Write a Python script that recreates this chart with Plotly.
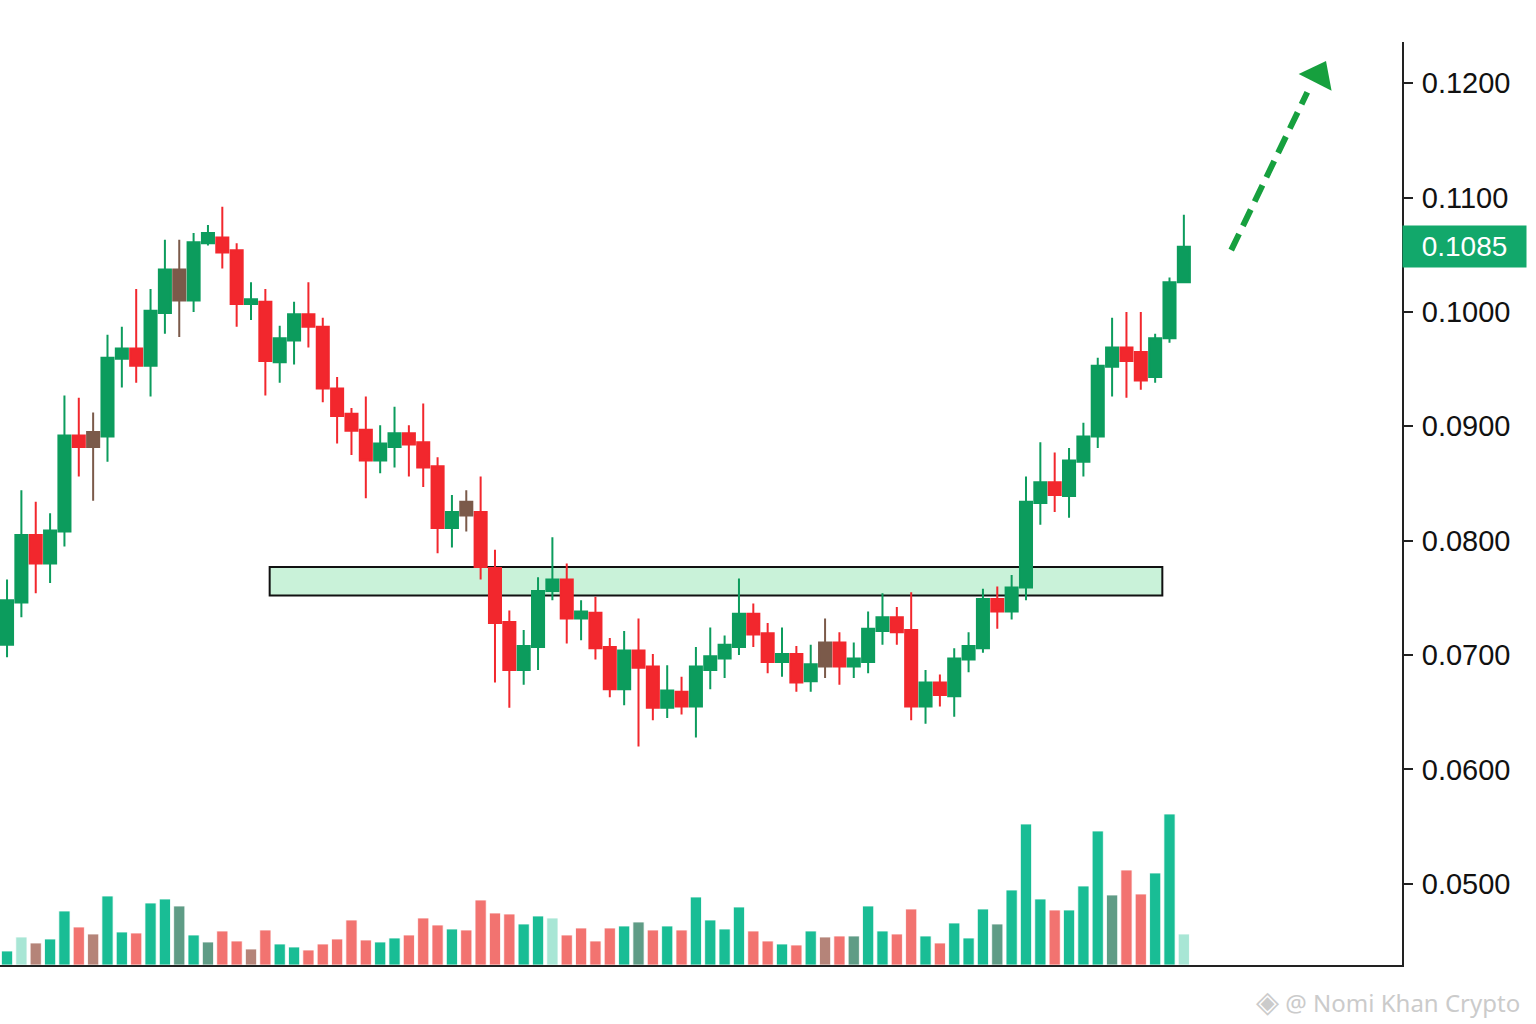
import plotly.graph_objects as go

# ---------------- data ----------------
open_ = [0.0709, 0.0746, 0.0805, 0.0780, 0.0808, 0.0892, 0.0895, 0.0891, 0.0959, 0.0968,
         0.0953, 0.0999, 0.1037, 0.1010, 0.1060, 0.1065, 0.1054, 0.1007, 0.1009, 0.0956,
         0.0975, 0.0998, 0.0987, 0.0933, 0.0911, 0.0897, 0.0870, 0.0882, 0.0894, 0.0886,
         0.0865, 0.0811, 0.0834, 0.0825, 0.0776, 0.0729, 0.0687, 0.0707, 0.0756, 0.0766,
         0.0732, 0.0737, 0.0707, 0.0670, 0.0704, 0.0690, 0.0654, 0.0668, 0.0655, 0.0687,
         0.0697, 0.0707, 0.0736, 0.0719, 0.0694, 0.0701, 0.0677, 0.0711, 0.0711, 0.0690,
         0.0694, 0.0721, 0.0733, 0.0722, 0.0655, 0.0676, 0.0664, 0.0696, 0.0706, 0.0749,
         0.0738, 0.0759, 0.0833, 0.0851, 0.0839, 0.0869, 0.0891, 0.0952, 0.0969, 0.0965,
         0.0943, 0.0977, 0.1026]
high = [0.0766, 0.0844, 0.0834, 0.0824, 0.0927, 0.0925, 0.0912, 0.0980, 0.0987, 0.1020,
        0.1020, 0.1063, 0.1063, 0.1069, 0.1076, 0.1092, 0.1060, 0.1026, 0.1020, 0.0988,
        0.1009, 0.1026, 0.0995, 0.0943, 0.0916, 0.0926, 0.0901, 0.0917, 0.0901, 0.0920,
        0.0873, 0.0840, 0.0844, 0.0856, 0.0792, 0.0739, 0.0722, 0.0768, 0.0803, 0.0780,
        0.0748, 0.0751, 0.0715, 0.0721, 0.0732, 0.0701, 0.0691, 0.0681, 0.0707, 0.0724,
        0.0717, 0.0767, 0.0745, 0.0728, 0.0724, 0.0708, 0.0709, 0.0732, 0.0720, 0.0711,
        0.0738, 0.0754, 0.0742, 0.0755, 0.0687, 0.0683, 0.0706, 0.0720, 0.0758, 0.0760,
        0.0770, 0.0856, 0.0886, 0.0877, 0.0881, 0.0903, 0.0960, 0.0995, 0.1000, 0.1000,
        0.0981, 0.1030, 0.1085]
low = [0.0698, 0.0733, 0.0754, 0.0763, 0.0795, 0.0856, 0.0835, 0.0869, 0.0934, 0.0938,
       0.0926, 0.0981, 0.0978, 0.1000, 0.1058, 0.1038, 0.0987, 0.0993, 0.0927, 0.0938,
       0.0954, 0.0969, 0.0921, 0.0885, 0.0875, 0.0837, 0.0859, 0.0864, 0.0856, 0.0847,
       0.0789, 0.0794, 0.0808, 0.0766, 0.0676, 0.0654, 0.0674, 0.0687, 0.0748, 0.0710,
       0.0713, 0.0696, 0.0663, 0.0656, 0.0620, 0.0643, 0.0645, 0.0648, 0.0628, 0.0670,
       0.0680, 0.0700, 0.0707, 0.0684, 0.0681, 0.0668, 0.0668, 0.0680, 0.0674, 0.0680,
       0.0684, 0.0709, 0.0709, 0.0643, 0.0640, 0.0655, 0.0646, 0.0685, 0.0702, 0.0723,
       0.0731, 0.0748, 0.0814, 0.0825, 0.0820, 0.0856, 0.0881, 0.0926, 0.0925, 0.0932,
       0.0938, 0.0973, 0.1025]
close = [0.0748, 0.0805, 0.0780, 0.0809, 0.0892, 0.0882, 0.0882, 0.0960, 0.0968, 0.0953,
         0.1001, 0.1037, 0.1010, 0.1061, 0.1069, 0.1052, 0.1007, 0.1011, 0.0957, 0.0977,
         0.0998, 0.0987, 0.0933, 0.0909, 0.0896, 0.0870, 0.0885, 0.0894, 0.0884, 0.0864,
         0.0811, 0.0825, 0.0822, 0.0777, 0.0728, 0.0687, 0.0708, 0.0756, 0.0766, 0.0732,
         0.0738, 0.0706, 0.0670, 0.0704, 0.0689, 0.0654, 0.0669, 0.0655, 0.0690, 0.0699,
         0.0709, 0.0736, 0.0718, 0.0694, 0.0701, 0.0676, 0.0692, 0.0690, 0.0690, 0.0697,
         0.0723, 0.0733, 0.0720, 0.0655, 0.0676, 0.0665, 0.0697, 0.0708, 0.0749, 0.0738,
         0.0759, 0.0834, 0.0851, 0.0840, 0.0870, 0.0891, 0.0953, 0.0969, 0.0957, 0.0940,
         0.0977, 0.1026, 0.1057]
# candles drawn in a muted (mixed) tone, 1-based candle numbers
mixed_candles = [7, 13, 33, 58]

volume = [14, 28, 22, 26, 54, 38, 31, 69, 33, 32,
          62, 66, 59, 30, 23, 34, 24, 16, 35, 21,
          18, 15, 21, 26, 45, 25, 23, 27, 30, 47,
          40, 36, 35, 65, 52, 51, 41, 49, 47, 30,
          37, 24, 37, 39, 43, 35, 39, 35, 68, 45,
          36, 58, 34, 24, 21, 20, 34, 28, 29, 29,
          59, 34, 31, 56, 29, 22, 42, 27, 56, 41,
          75, 141, 66, 55, 55, 79, 134, 70, 95, 71,
          92, 151, 31]
# u = up, d = down, g = mixed up, b = mixed down, l = faint
vol_tone = ["u", "l", "b", "u", "u", "d", "b", "u", "u", "d",
            "u", "u", "g", "u", "g", "d", "d", "b", "d", "u",
            "u", "d", "d", "d", "d", "d", "u", "u", "d", "d",
            "d", "u", "d", "d", "d", "d", "u", "u", "l", "d",
            "d", "d", "d", "u", "g", "d", "u", "d", "u", "u",
            "u", "u", "d", "d", "u", "d", "u", "b", "d", "g",
            "u", "u", "d", "d", "u", "d", "u", "u", "u", "g",
            "u", "u", "u", "d", "u", "u", "u", "g", "d", "d",
            "u", "u", "l"]

price_ticks = [0.05, 0.06, 0.07, 0.08, 0.09, 0.10, 0.11, 0.12]
price_tick_text = ["0.0500", "0.0600", "0.0700", "0.0800", "0.0900", "0.1000", "0.1100", "0.1200"]
last_price_label = "0.1085"

zone_low, zone_high = 0.0752, 0.0777
zone_start, zone_end = 18.3, 80.5

arrow_x = [85.3, 90.6]
arrow_y = [0.1054, 0.1192]
arrow_head_x, arrow_head_y = 91.4, 0.1207
watermark_logo = "◈"
watermark_text = "@ Nomi Khan Crypto"

# ---------------- styles ----------------
GREEN = "#0c9c5d"
RED = "#f2272d"
BROWN = "#7b5a4a"
ARROW = "#16a03e"
tone_colors = {"u": "#19bd95", "d": "#f27370", "g": "#5f9c86", "b": "#b58479", "l": "#a8e6d5"}

n = len(open_)
x = list(range(n))
main_idx = [i for i in range(n) if (i + 1) not in mixed_candles]
mix_idx = [i for i in range(n) if (i + 1) in mixed_candles]


def sub(lst, idx):
    return [lst[i] for i in idx]


fig = go.Figure()

fig.add_trace(go.Bar(
    x=x, y=volume, yaxis="y2",
    marker=dict(color=[tone_colors[t] for t in vol_tone],
                line=dict(color="rgba(255,255,255,0.8)", width=1)),
    showlegend=False, hoverinfo="skip"))

fig.add_trace(go.Candlestick(
    x=sub(x, main_idx), open=sub(open_, main_idx), high=sub(high, main_idx),
    low=sub(low, main_idx), close=sub(close, main_idx),
    increasing=dict(line=dict(color=GREEN, width=2), fillcolor=GREEN),
    decreasing=dict(line=dict(color=RED, width=2), fillcolor=RED),
    showlegend=False))
fig.add_trace(go.Candlestick(
    x=sub(x, mix_idx), open=sub(open_, mix_idx), high=sub(high, mix_idx),
    low=sub(low, mix_idx), close=sub(close, mix_idx),
    increasing=dict(line=dict(color=BROWN, width=2), fillcolor=BROWN),
    decreasing=dict(line=dict(color=BROWN, width=2), fillcolor=BROWN),
    showlegend=False))

# dashed arrow
fig.add_trace(go.Scatter(
    x=arrow_x, y=arrow_y, mode="lines",
    line=dict(color=ARROW, width=6, dash="18px,9px"),
    showlegend=False, hoverinfo="skip"))
fig.add_trace(go.Scatter(
    x=[arrow_head_x], y=[arrow_head_y], mode="markers",
    marker=dict(symbol="triangle-up", size=32, angle=27, color=ARROW),
    showlegend=False, hoverinfo="skip"))

# support/resistance zone
fig.add_shape(type="rect", xref="x", yref="y", x0=zone_start, x1=zone_end,
              y0=zone_low, y1=zone_high, fillcolor="#c9f2d9",
              line=dict(color="#111111", width=2), layer="below")

# last price label
fig.add_annotation(xref="paper", x=1.0, xanchor="left", yref="y", y=close[-1], yanchor="middle",
                   text=last_price_label, showarrow=False,
                   font=dict(size=28, color="white", family="Liberation Sans, Arial"),
                   bgcolor="#12a86b", width=115, height=33, borderpad=4, align="center")

# watermark
fig.add_annotation(xref="paper", x=1522 / 1402, xanchor="right", yref="paper", y=-0.038,
                   yanchor="middle",
                   text=f"<span style='font-size:30px'>{watermark_logo}</span> {watermark_text}",
                   showarrow=False,
                   font=dict(size=24, color="#cbcbcb", family="Noto Sans"))

fig.update_layout(
    width=1536, height=1024,
    margin=dict(l=0, r=134, t=42, b=59),
    paper_bgcolor="white", plot_bgcolor="white",
    boxgap=0.16, boxgroupgap=0,
    bargap=0.22,
    showlegend=False,
    xaxis=dict(range=[-0.49, 97.2], showgrid=False, zeroline=False, showticklabels=False,
               ticks="", showline=True, linecolor="#222222", linewidth=2,
               rangeslider=dict(visible=False), fixedrange=True),
    yaxis=dict(side="right", range=[0.0429, 0.1236], tickvals=price_ticks, ticktext=price_tick_text,
               showgrid=False, zeroline=False, showline=True, linecolor="#222222", linewidth=2,
               ticks="outside", ticklen=9, tickwidth=2, tickcolor="#222222",
               tickfont=dict(size=29, color="#111111", family="Liberation Sans, Arial"),
               ticklabelstandoff=3),
    yaxis2=dict(overlaying="y", range=[0, 923], visible=False, showgrid=False, zeroline=False),
)

fig.write_html("out.html", config={"displayModeBar": False},
               post_script="document.body.style.margin='0';")
